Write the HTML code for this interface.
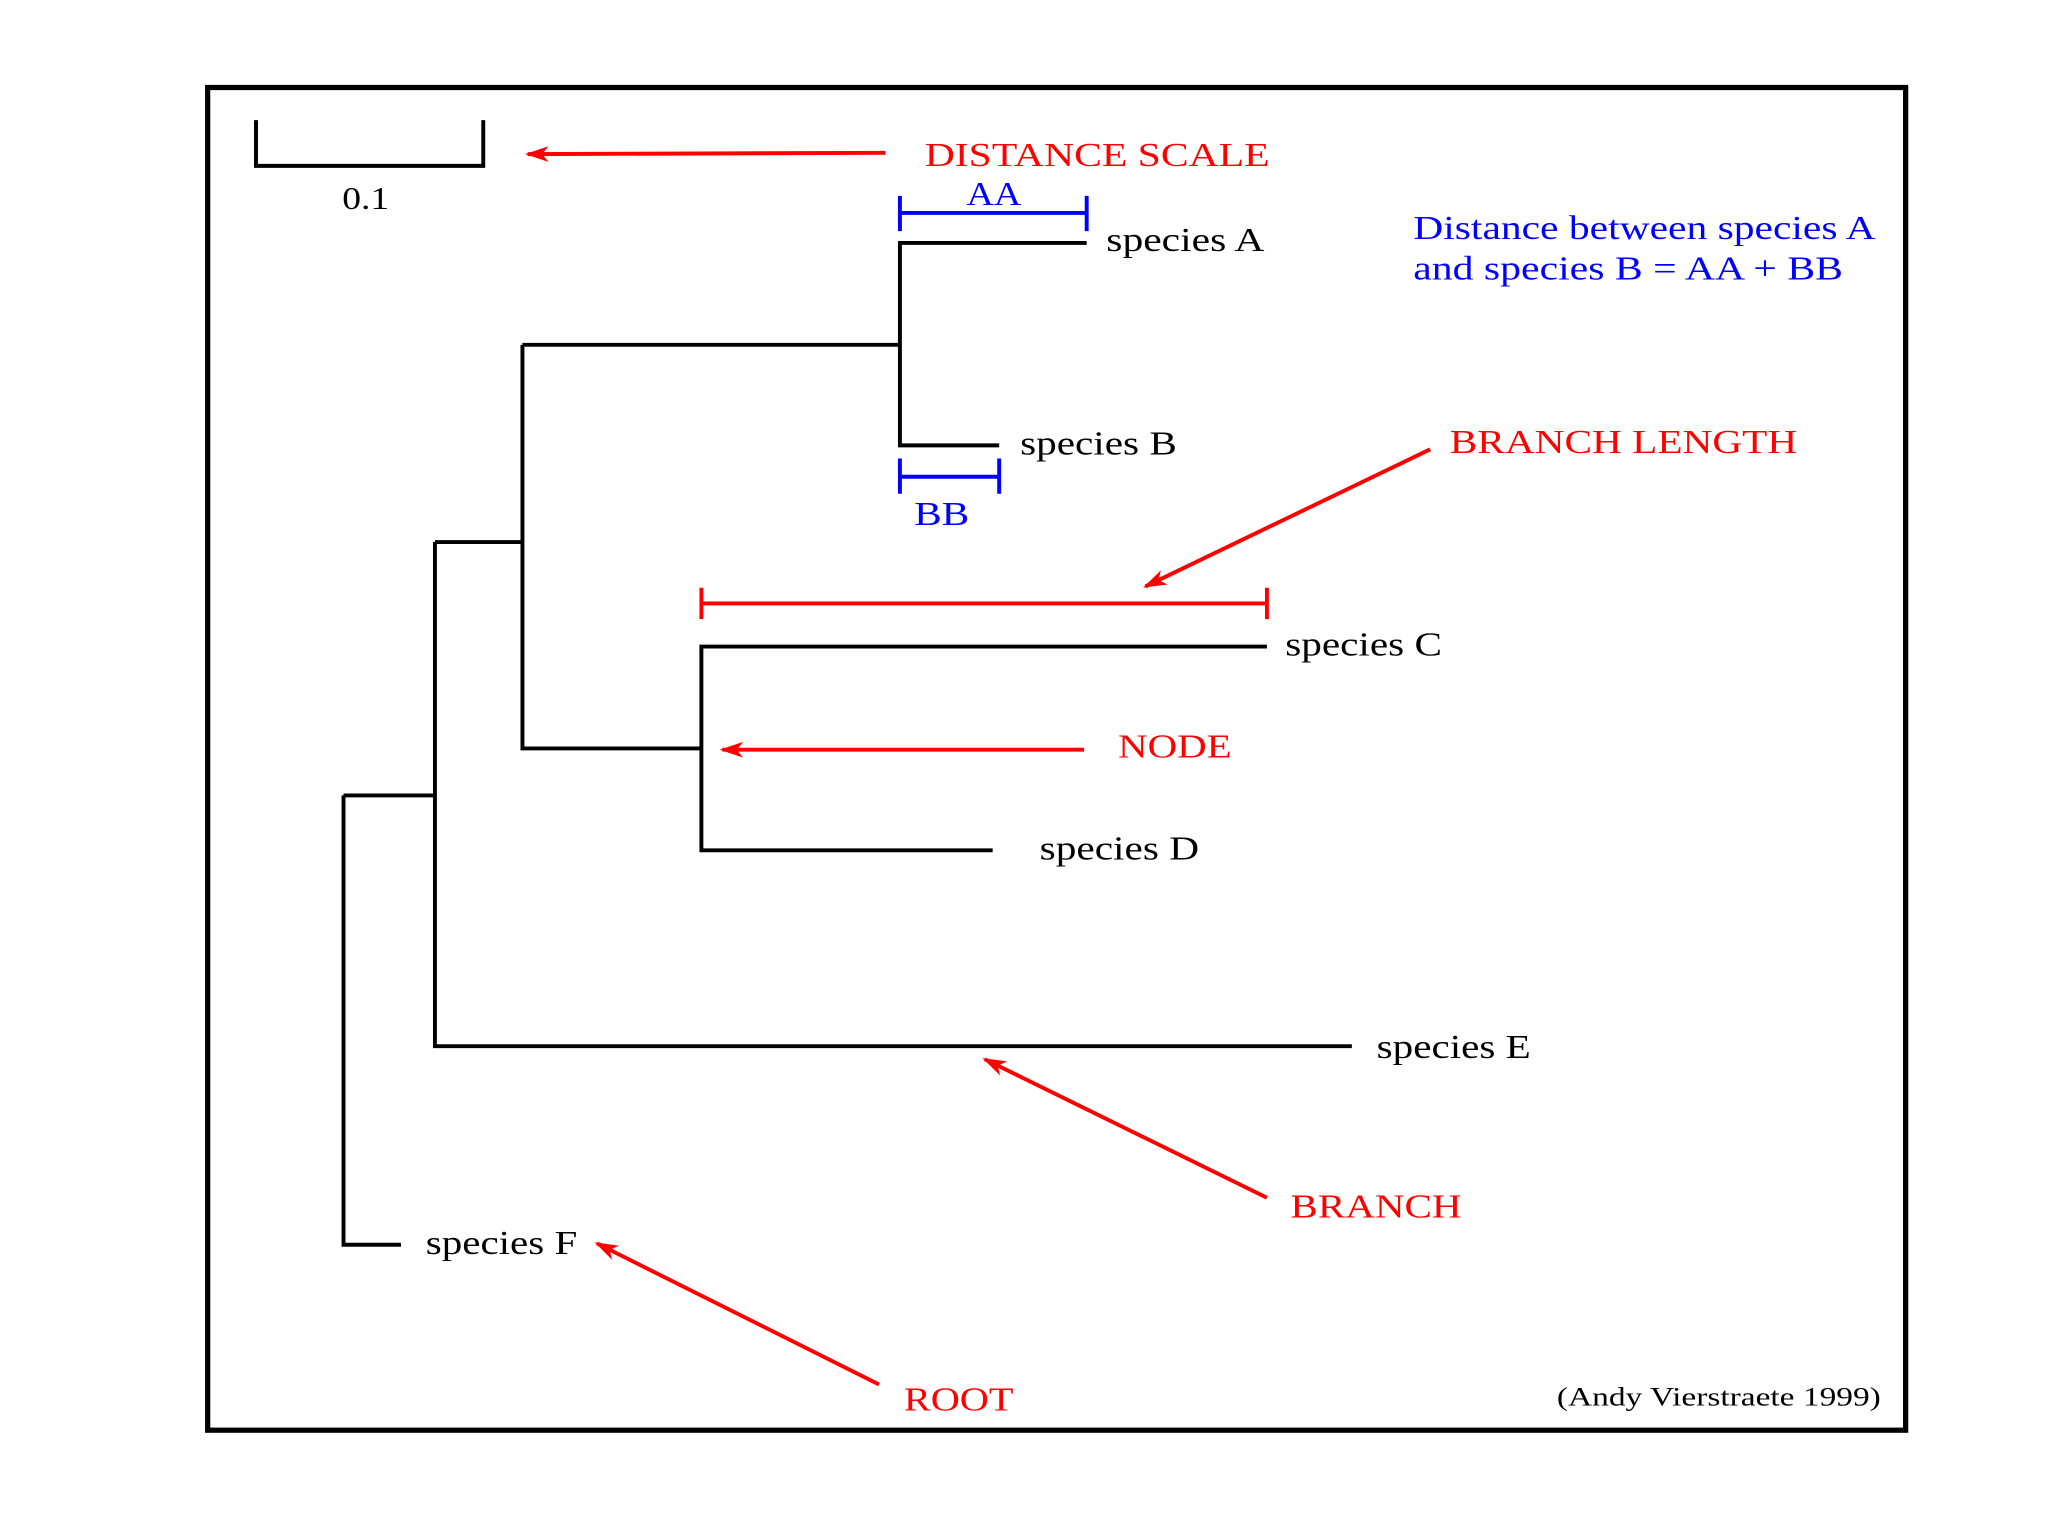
<!DOCTYPE html>
<html><head><meta charset="utf-8"><style>html,body{margin:0;padding:0;background:#fff}svg{display:block}text{font-family:"Liberation Serif",serif}</style></head>
<body>
<svg width="2048" height="1536" viewBox="0 0 1568 1176" xmlns="http://www.w3.org/2000/svg">
<defs>
<marker id="ah" markerWidth="18" markerHeight="12" refX="16" refY="6" orient="auto" markerUnits="userSpaceOnUse" viewBox="0 0 18 12">
<path d="M0,0 L18,6 L0,12 L5,6 Z" fill="#f00"/></marker>
</defs>
<rect x="159" y="67" width="1300" height="1028" fill="#fff" stroke="#000" stroke-width="4"/>
<g fill="none" stroke="#000" stroke-width="3">
<path d="M196 92 V127 H370 V92"/>
<path d="M832 186 H689 V341 H765"/>
<path d="M400 264 H689"/>
<path d="M400 264 V573 H537"/>
<path d="M970 495 H537 V651 H760"/>
<path d="M333 415 H400"/>
<path d="M333 415 V801 H1035"/>
<path d="M263 609 H333"/>
<path d="M263 609 V953 H307"/>
</g>
<g fill="none" stroke="#00f" stroke-width="3">
<path d="M689 163 H832 M689 150 V177 M832 150 V177"/>
<path d="M689 365 H765 M689 351 V378 M765 351 V378"/>
</g>
<g fill="none" stroke="#f00" stroke-width="3">
<path d="M537 462 H970 M537 450 V474 M970 450 V474"/>
<line x1="678" y1="117" x2="404" y2="118" marker-end="url(#ah)"/>
<line x1="1095" y1="344" x2="877" y2="449" marker-end="url(#ah)"/>
<line x1="830" y1="574" x2="553" y2="574" marker-end="url(#ah)"/>
<line x1="970" y1="917" x2="754" y2="811" marker-end="url(#ah)"/>
<line x1="673" y1="1060" x2="457" y2="952" marker-end="url(#ah)"/>
</g>
<g font-size="26" fill="#000" lengthAdjust="spacingAndGlyphs">
<text x="262" y="160" font-size="24" textLength="36" lengthAdjust="spacingAndGlyphs">0.1</text>
<text x="847" y="192" textLength="121" lengthAdjust="spacingAndGlyphs">species A</text>
<text x="781" y="348" textLength="120" lengthAdjust="spacingAndGlyphs">species B</text>
<text x="984" y="502" textLength="120" lengthAdjust="spacingAndGlyphs">species C</text>
<text x="796" y="658" textLength="122" lengthAdjust="spacingAndGlyphs">species D</text>
<text x="1054" y="810" textLength="118" lengthAdjust="spacingAndGlyphs">species E</text>
<text x="326" y="960" textLength="116" lengthAdjust="spacingAndGlyphs">species F</text>
<text x="1192" y="1076" font-size="20" textLength="248" lengthAdjust="spacingAndGlyphs">(Andy Vierstraete 1999)</text>
</g>
<g font-size="26" fill="#00f">
<text x="740" y="157" textLength="42" lengthAdjust="spacingAndGlyphs">AA</text>
<text x="700" y="402" textLength="42" lengthAdjust="spacingAndGlyphs">BB</text>
<text x="1082" y="183" textLength="354" lengthAdjust="spacingAndGlyphs">Distance between species A</text>
<text x="1082" y="214" textLength="329" lengthAdjust="spacingAndGlyphs">and species B = AA + BB</text>
</g>
<g font-size="26" fill="#f00">
<text x="708" y="127" textLength="264" lengthAdjust="spacingAndGlyphs">DISTANCE SCALE</text>
<text x="1110" y="347" textLength="266" lengthAdjust="spacingAndGlyphs">BRANCH LENGTH</text>
<text x="856" y="580" textLength="87" lengthAdjust="spacingAndGlyphs">NODE</text>
<text x="988" y="932" textLength="131" lengthAdjust="spacingAndGlyphs">BRANCH</text>
<text x="692" y="1080" textLength="84" lengthAdjust="spacingAndGlyphs">ROOT</text>
</g>
</svg>
</body></html>
